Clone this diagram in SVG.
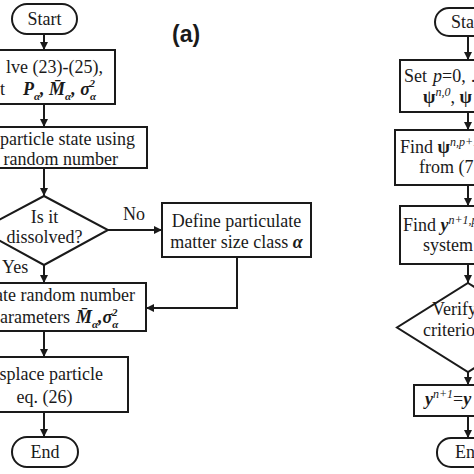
<svg xmlns="http://www.w3.org/2000/svg" width="474" height="474" viewBox="0 0 474 474">
<style>
.n{fill:#fff;stroke:#1a1a1a;stroke-width:2}
.c{fill:none;stroke:#1a1a1a;stroke-width:2}
text{font-family:"Liberation Serif","Times New Roman",serif;font-size:18px;fill:#1a1a1a}
.m{font-weight:bold;font-style:italic}
.g{font-weight:bold;font-style:normal}
.s{font-size:11px}
.si{font-size:12px;font-style:italic}
.lab{font-family:"Liberation Sans",Arial,sans-serif;font-weight:bold;font-size:23px}
</style>
<defs>
<marker id="ah" markerUnits="userSpaceOnUse" markerWidth="8" markerHeight="8" refX="8" refY="4" orient="auto">
<path d="M0,0 L8,4 L0,8 z" fill="#1a1a1a"/>
</marker>
</defs>
<rect width="474" height="474" fill="#fff"/>
<text class="lab" x="172" y="42">(a)</text>
<g id="connectors">
<path class="c" d="M44,34 V50" marker-end="url(#ah)"/>
<path class="c" d="M44,104 V127" marker-end="url(#ah)"/>
<path class="c" d="M44,168 V196" marker-end="url(#ah)"/>
<path class="c" d="M108,230 H162" marker-end="url(#ah)"/>
<path class="c" d="M44,265 V283" marker-end="url(#ah)"/>
<path class="c" d="M237,257 V308 H146" marker-end="url(#ah)"/>
<path class="c" d="M44,331 V357" marker-end="url(#ah)"/>
<path class="c" d="M44,412 V437" marker-end="url(#ah)"/>
<path class="c" d="M468,36 V60" marker-end="url(#ah)"/>
<path class="c" d="M468,112 V130" marker-end="url(#ah)"/>
<path class="c" d="M468,185 V206" marker-end="url(#ah)"/>
<path class="c" d="M468,264 V283" marker-end="url(#ah)"/>
<path class="c" d="M468,372 V385" marker-end="url(#ah)"/>
<path class="c" d="M468,416 V438" marker-end="url(#ah)"/>
</g>
<g id="a-start">
<rect class="n" x="12" y="4" width="65" height="30" rx="15"/>
<text x="44.5" y="25" text-anchor="middle">Start</text>
</g>
<g id="a-solve">
<rect class="n" x="-10" y="50" width="125" height="54"/>
<text x="103" y="73" text-anchor="end">lve (23)-(25),</text>
<text x="0" y="95">t</text>
<text x="23" y="95" class="m">P<tspan class="s" dy="5">α</tspan><tspan dy="-5">, </tspan>M&#x304;<tspan class="s" dy="5">α</tspan><tspan dy="-5">, </tspan>σ<tspan class="s" dy="5">α</tspan><tspan class="s" dx="-6.5" dy="-13">2</tspan></text>
</g>
<g id="a-state">
<rect class="n" x="-10" y="127" width="157" height="41"/>
<text x="135" y="145" text-anchor="end">particle state using</text>
<text x="118" y="165" text-anchor="end">random number</text>
</g>
<g id="a-dissolved">
<polygon class="n" points="44,196 108,230 44,265 -20,230"/>
<text x="44.5" y="223" text-anchor="middle">Is it</text>
<text x="44.5" y="243" text-anchor="middle">dissolved?</text>
</g>
<text x="134" y="220" text-anchor="middle">No</text>
<text x="2" y="273">Yes</text>
<g id="a-define">
<rect class="n" x="162" y="203" width="149" height="54"/>
<text x="236.5" y="227" text-anchor="middle">Define particulate</text>
<text x="236.5" y="248" text-anchor="middle">matter size class <tspan class="m">α</tspan></text>
</g>
<g id="a-generate">
<rect class="n" x="-10" y="283" width="156" height="48"/>
<text x="135" y="301" text-anchor="end">ate random number</text>
<text x="0" y="323">arameters</text>
<text x="76" y="323" class="m">M&#x304;<tspan class="s" dy="5">α</tspan><tspan dy="-5">,</tspan>σ<tspan class="s" dy="5">α</tspan><tspan class="s" dx="-6.5" dy="-12">2</tspan></text>
</g>
<g id="a-displace">
<rect class="n" x="-10" y="357" width="138" height="55"/>
<text x="103" y="380" text-anchor="end">splace particle</text>
<text x="44.5" y="403" text-anchor="middle">eq. (26)</text>
</g>
<g id="a-end">
<rect class="n" x="12" y="437" width="66" height="30" rx="15"/>
<text x="45" y="458" text-anchor="middle">End</text>
</g>
<g id="b-start">
<rect class="n" x="435" y="8" width="70" height="28" rx="14"/>
<text x="451" y="28">Sta</text>
</g>
<g id="b-set">
<rect class="n" x="400" y="60" width="90" height="52"/>
<text x="404" y="82">Set <tspan x="433" font-style="italic">p</tspan>=0, …</text>
<text x="423" y="103"><tspan class="g">ψ</tspan><tspan class="si" dy="-7">n,0</tspan><tspan dy="7">, </tspan><tspan class="g">ψ</tspan></text>
</g>
<g id="b-findpsi">
<rect class="n" x="395" y="130" width="95" height="55"/>
<text x="400" y="153">Find <tspan class="g">ψ</tspan><tspan class="si" dy="-7">n,p+1</tspan></text>
<text x="419" y="173">from (7</text>
</g>
<g id="b-findy">
<rect class="n" x="400" y="206" width="90" height="58"/>
<text x="403" y="231">Find <tspan class="m">y</tspan><tspan class="si" dy="-7">n+1,p</tspan></text>
<text x="423" y="251">system</text>
</g>
<g id="b-verify">
<polygon class="n" points="468,283 539,327.5 468,372 397,327.5"/>
<text x="432" y="315">Verify</text>
<text x="423" y="336">criterio</text>
</g>
<g id="b-update">
<rect class="n" x="414" y="385" width="80" height="31"/>
<text x="425" y="405"><tspan class="m">y</tspan><tspan class="si" dy="-7">n+1</tspan><tspan dy="7">=</tspan><tspan class="m">y</tspan></text>
</g>
<g id="b-end">
<rect class="n" x="437" y="438" width="70" height="29" rx="14"/>
<text x="455" y="458">En</text>
</g>
</svg>
